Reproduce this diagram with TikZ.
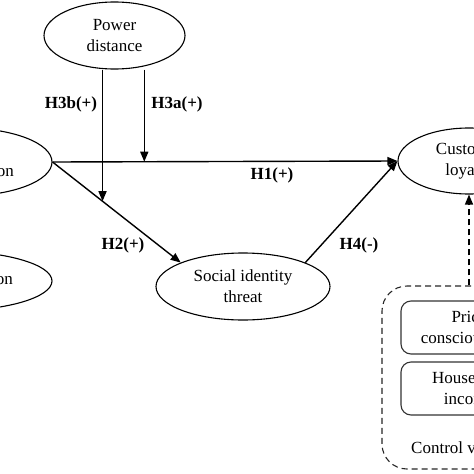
\documentclass[tikz,border=0pt]{standalone}
\usepackage{fontspec}
\setmainfont{Liberation Serif}
\usetikzlibrary{shapes.geometric, arrows.meta, calc}

\begin{document}
\begin{tikzpicture}[x=1pt, y=-1pt]
\tikzstyle{construct} = [ellipse, draw=black, line width=1.1pt, inner sep=0pt, align=center, font=\fontsize{17pt}{21pt}\selectfont]
\tikzstyle{control} = [rectangle, rounded corners=10pt, draw=black!80, line width=1.1pt, minimum width=136pt, minimum height=53pt, align=center, font=\fontsize{17pt}{21pt}\selectfont]
\tikzstyle{arrow} = [line width=1.4pt, -{Triangle[length=10pt, width=8pt]}]
\tikzstyle{hyp} = [font=\bfseries\fontsize{17pt}{20pt}\selectfont]

\useasboundingbox (0,0) rectangle (474,474);
\clip (0,0) rectangle (474,474);

% Construct Nodes
\node (pd) [construct, minimum width=141pt, minimum height=67pt] at (114.5,35.5) {Power\\distance};
\node (x) [construct, minimum width=176pt, minimum height=68pt, text width=100pt, align=right] at (-36,162) {\strut\\on\strut};
\node (z) [construct, minimum width=208pt, minimum height=60pt, text width=130pt, align=right] at (-52,281) {on};
\node (sit) [construct, minimum width=174pt, minimum height=67pt] at (243,286.5) {Social identity\\threat};
\node (cl) [construct, minimum width=142pt, minimum height=66pt] at (469,161) {Customer\\loyalty};

% Control Variables
\node (ctrl) [rectangle, rounded corners=25pt, draw=black!85, line width=1.1pt, dash pattern=on 6pt off 4pt, minimum width=174pt, minimum height=183pt] at (469,377.5) {};
\node (price) [control] at (469,327.5) {Price\\consciousness};
\node (income) [control] at (469,388.5) {Household\\income};
\node (ctrllabel) [font=\fontsize{17pt}{21pt}\selectfont] at (470,448) {Control variables};

% Main Paths
\draw [arrow] (x.east) -- (cl.west);
\draw [arrow] (x.east) -- (sit.159);
\draw [arrow] (sit.21) -- (cl.west);
\draw [arrow, dash pattern=on 6pt off 4pt] (ctrl.north) -- (cl.south);

% Moderation Paths
\coordinate (m1) at ($(x.east)!0.266!(cl.west)$);
\coordinate (m2) at ($(x.east)!0.39!(sit.159)$);
\draw [arrow] (pd.south -| m1) -- (m1);
\draw [arrow] (pd.south -| m2) -- (m2);

% Hypothesis Labels
\node (h3b) [hyp] at (71,104) {H3b(+)};
\node (h3a) [hyp] at (177,104) {H3a(+)};
\node (h1) [hyp] at (272,175) {H1(+)};
\node (h2) [hyp] at (123,245) {H2(+)};
\node (h4) [hyp] at (359,245) {H4(-)};

\end{tikzpicture}
\end{document}
